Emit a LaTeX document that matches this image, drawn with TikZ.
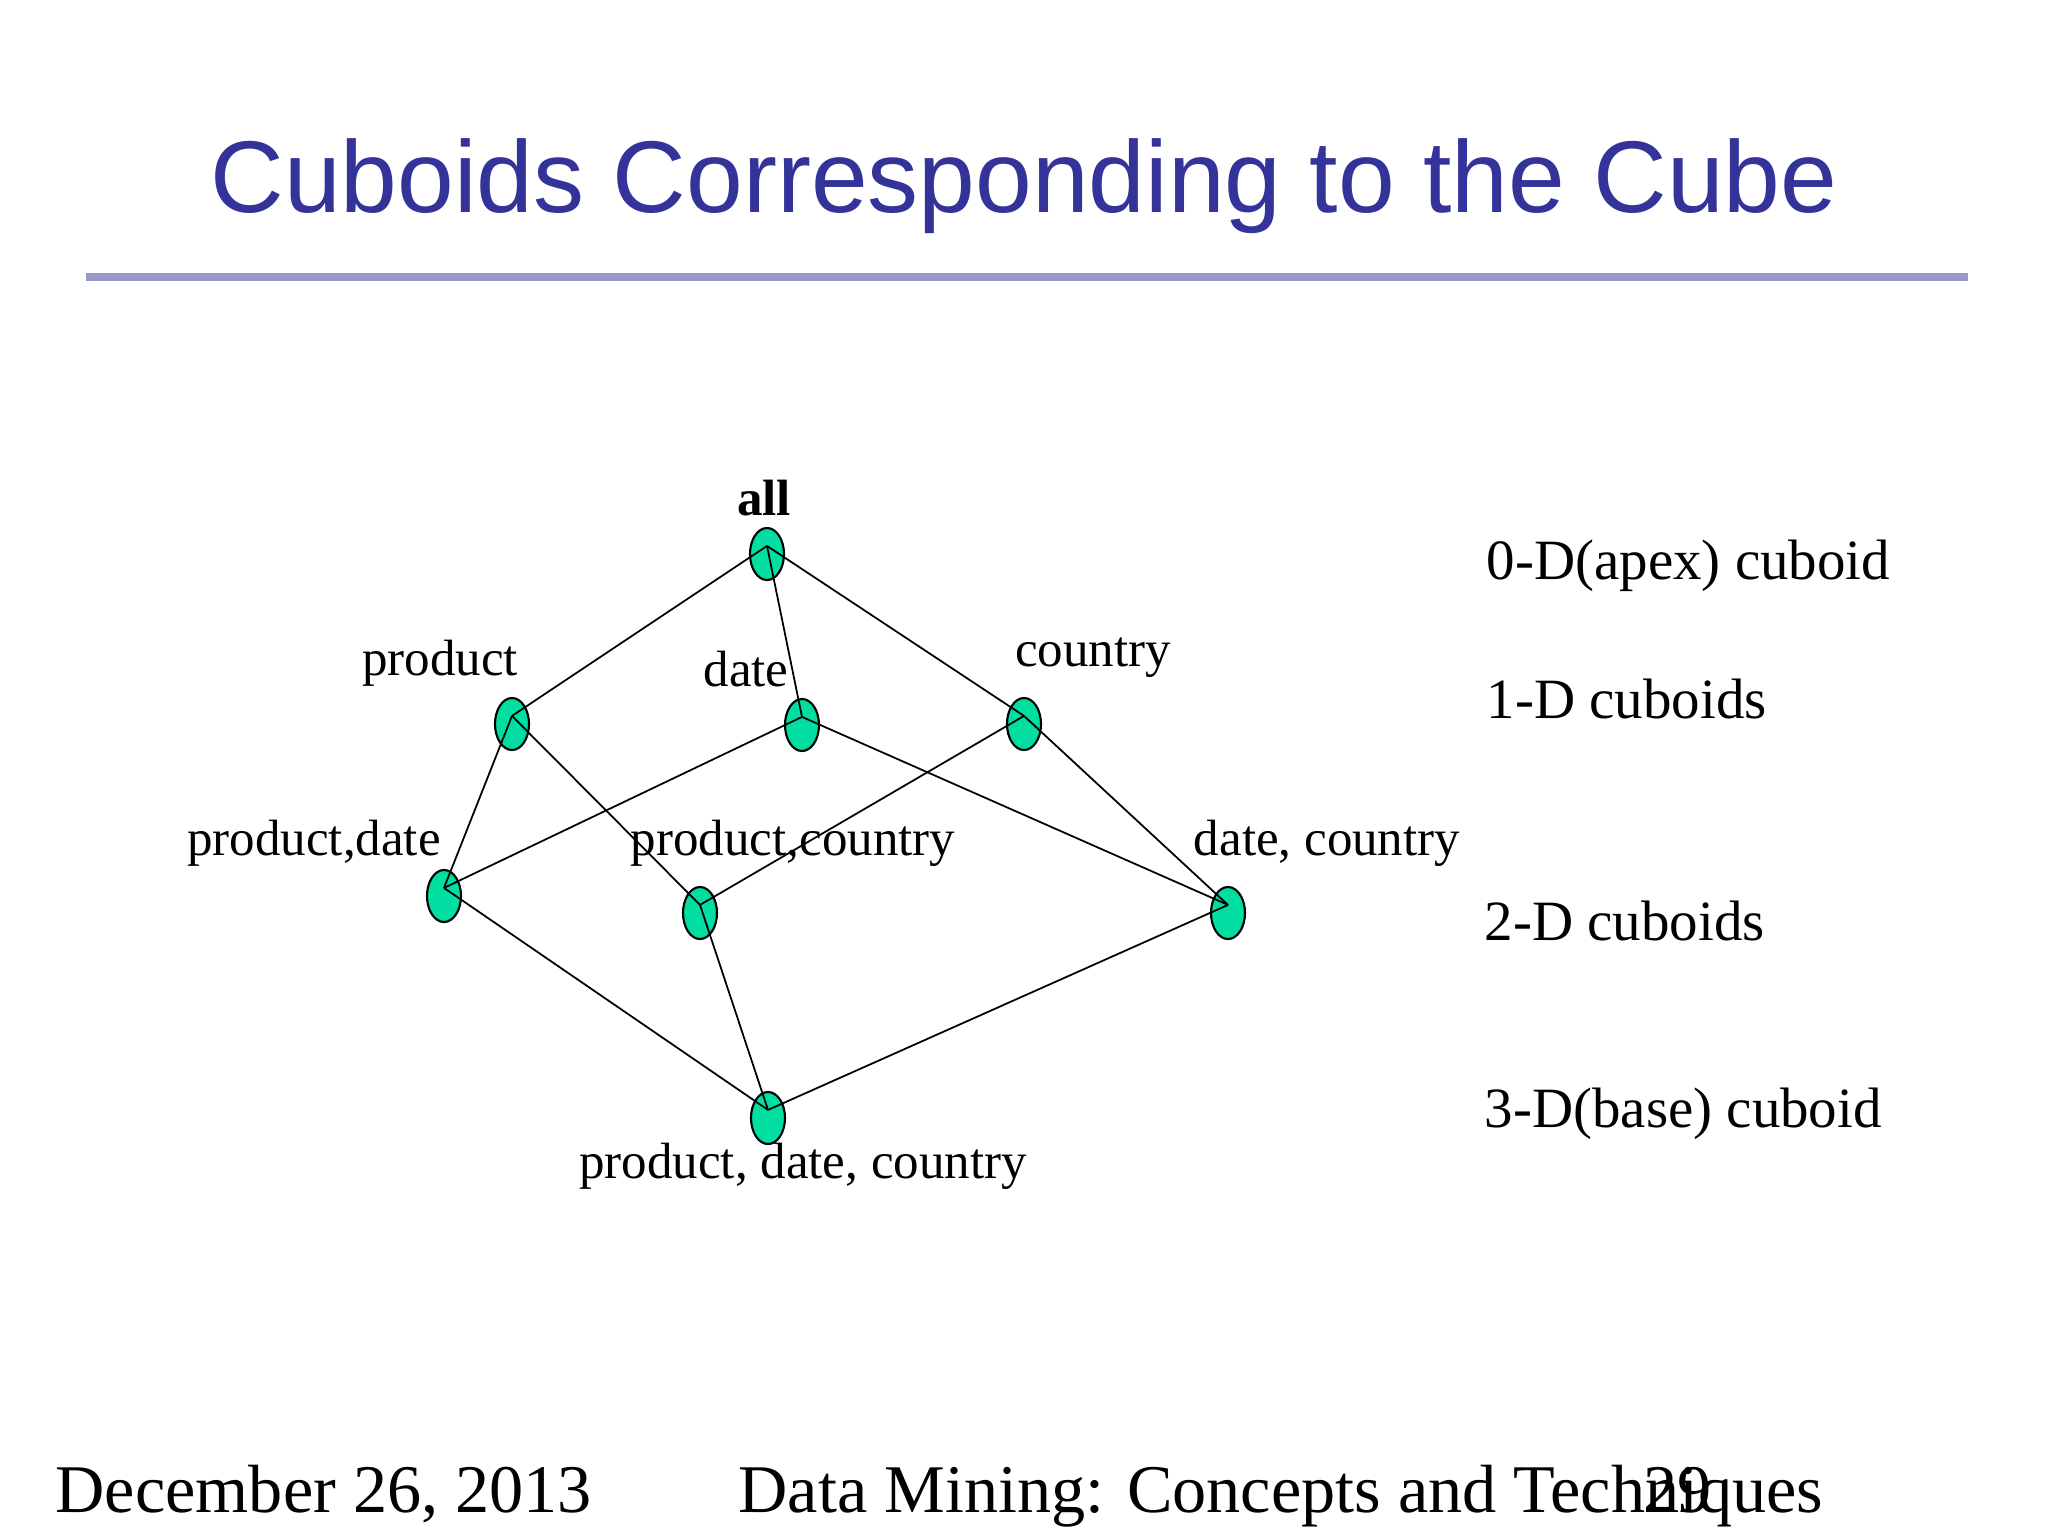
\documentclass[tikz,border=0pt]{standalone}
\usepackage{fontspec}
\setmainfont{Liberation Serif}
\newfontfamily\titlefont{Liberation Sans}
\usepackage{tikz}
\usetikzlibrary{shapes.geometric}
\definecolor{cubc}{RGB}{0,222,162}
\definecolor{ttl}{RGB}{51,51,153}
\definecolor{rulc}{RGB}{153,153,204}

\begin{document}
\begin{tikzpicture}[
            x=0.01cm, y=-0.01cm,
            cub/.style={ellipse,draw,line width=0.6pt,fill=cubc,minimum width=0.34cm,minimum height=0.52cm,inner sep=0pt},
            lbl/.style={anchor=base,font=\fontsize{14.5}{17}\selectfont},
            dimlbl/.style={anchor=base west,inner sep=0pt,font=\fontsize{16.2}{19}\selectfont},
            foot/.style={anchor=base west,inner sep=0pt,font=\fontsize{19.4}{23}\selectfont}
        ]
            \useasboundingbox (0,0) rectangle (2048,1536);

            \node[anchor=base,text=ttl,font=\titlefont\fontsize{29}{34}\selectfont] (title) at (1024,212) {Cuboids Corresponding to the Cube};
            \draw [rulc,line width=2.3pt] (86,277) -- (1968,277);

            \node[cub] (all) at (767,554) {};
            \node[cub] (p) at (512,724) {};
            \node[cub] (d) at (802,725) {};
            \node[cub] (c) at (1024,724) {};
            \node[cub] (pd) at (444,896) {};
            \node[cub] (pc) at (700,913) {};
            \node[cub] (dc) at (1228,913) {};
            \node[cub] (pdc) at (768,1118) {};

            \foreach \a/\b in {all/p,all/d,all/c,p/pd,p/pc,d/pd,d/dc,c/pc,c/dc,pd/pdc,pc/pdc,dc/pdc} {
                \draw [line width=0.5pt] ([yshift=2.3pt]\a.center) -- ([yshift=2.3pt]\b.center);
            }

            \node[lbl,font=\bfseries\fontsize{14.5}{17}\selectfont] (lall) at (764,515) {all};
            \node[lbl] (lp) at (440,675) {product};
            \node[lbl] (ld) at (746,686) {date};
            \node[lbl] (lc) at (1093,666) {country};
            \node[lbl] (lpd) at (314,855) {product,date};
            \node[lbl] (lpc) at (793,855) {product,country};
            \node[lbl] (ldc) at (1327,855) {date, country};
            \node[lbl] (lpdc) at (803,1178) {product, date, country};

            \node[dimlbl] (d0) at (1486,579) {0-D(apex) cuboid};
            \node[dimlbl] (d1) at (1486,718) {1-D cuboids};
            \node[dimlbl] (d2) at (1484,940) {2-D cuboids};
            \node[dimlbl] (d3) at (1484,1127) {3-D(base) cuboid};

            \node[foot] (date) at (55,1512) {December 26, 2013};
            \node[foot] (book) at (738,1512) {Data Mining: Concepts and Techniques};
            \node[foot] (pg) at (1643,1512) {29};
        \end{tikzpicture}
\end{document}
